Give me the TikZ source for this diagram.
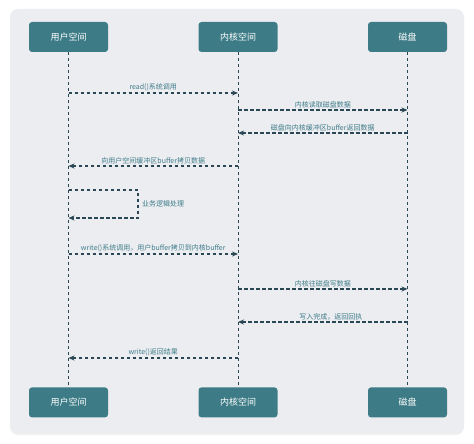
\documentclass[tikz,border=0pt]{standalone}
\usepackage{fontspec}
\setmainfont{Noto Sans CJK SC}
\usetikzlibrary{positioning, arrows.meta, calc, shadows}
\definecolor{panelgray}{HTML}{ECEDF1}
\definecolor{boxteal}{HTML}{3D7C86}
\definecolor{lineD}{HTML}{2A4756}
\definecolor{lbltext}{HTML}{3E7C88}
\tikzset{
  actor/.style={rounded corners=3pt, fill=boxteal, text=white, font=\fontsize{9}{10}\selectfont,
                minimum width=79pt, minimum height=30pt, inner sep=0pt},
  life/.style={draw=lineD, line width=0.9pt, dash pattern=on 3pt off 3pt},
  msg/.style={draw=lineD, line width=1.1pt, dash pattern=on 3.5pt off 2.5pt,
              -{Stealth[length=6pt, width=5pt]}},
  lbl/.style={font=\fontsize{7}{8}\selectfont, text=lbltext, inner sep=1.5pt},
}
\begin{document}
\begin{tikzpicture}[x=1pt, y=1pt]
  \useasboundingbox (0,0) rectangle (474,-444);
  % panel
  \fill[panelgray, rounded corners=8pt, drop shadow={opacity=0.12, shadow xshift=0pt, shadow yshift=-2pt}]
    (10,-9) rectangle (464,-433);
  % participants
  \node[actor] (user) at (68.5,-37) {用户空间};
  \node[actor] (kern) at (238,-37) {内核空间};
  \node[actor] (disk) at (407.5,-37) {磁盘};
  \node[actor, below=335pt of user] (userB) {用户空间};
  \node[actor, below=335pt of kern] (kernB) {内核空间};
  \node[actor, below=335pt of disk] (diskB) {磁盘};
  % lifelines
  \draw[life] (user) -- (userB);
  \draw[life] (kern) -- (kernB);
  \draw[life] (disk) -- (diskB);
  % message rows
  \coordinate (m1) at (0,-93);
  \coordinate (m2) at (0,-110);
  \coordinate (m3) at (0,-133);
  \coordinate (m4) at (0,-166);
  \coordinate (s1) at (138,-190);
  \coordinate (s2) at (138,-218);
  \coordinate (m5) at (0,-254);
  \coordinate (m6) at (0,-289);
  \coordinate (m7) at (0,-322);
  \coordinate (m8) at (0,-358);
  % read path
  \draw[msg] (user |- m1) -- node[lbl, above]{read()系统调用} (kern |- m1);
  \draw[msg] (kern |- m2) -- node[lbl, above]{内核读取磁盘数据} (disk |- m2);
  \draw[msg] (disk |- m3) -- node[lbl, above]{磁盘向内核缓冲区buffer返回数据} (kern |- m3);
  \draw[msg] (kern |- m4) -- node[lbl, above]{向用户空间缓冲区buffer拷贝数据} (user |- m4);
  % self call
  \draw[msg] (user |- s1) -- (s1) -- node[lbl, right=2pt]{业务逻辑处理} (s2) -- (user |- s2);
  % write path
  \draw[msg] (user |- m5) -- node[lbl, above]{write()系统调用，用户buffer拷贝到内核buffer} (kern |- m5);
  \draw[msg] (kern |- m6) -- node[lbl, above]{内核往磁盘写数据} (disk |- m6);
  \draw[msg] (disk |- m7) -- node[lbl, above, xshift=8pt]{写入完成，返回回执} (kern |- m7);
  \draw[msg] (kern |- m8) -- node[lbl, above]{write()返回结果} (user |- m8);
\end{tikzpicture}
\end{document}
